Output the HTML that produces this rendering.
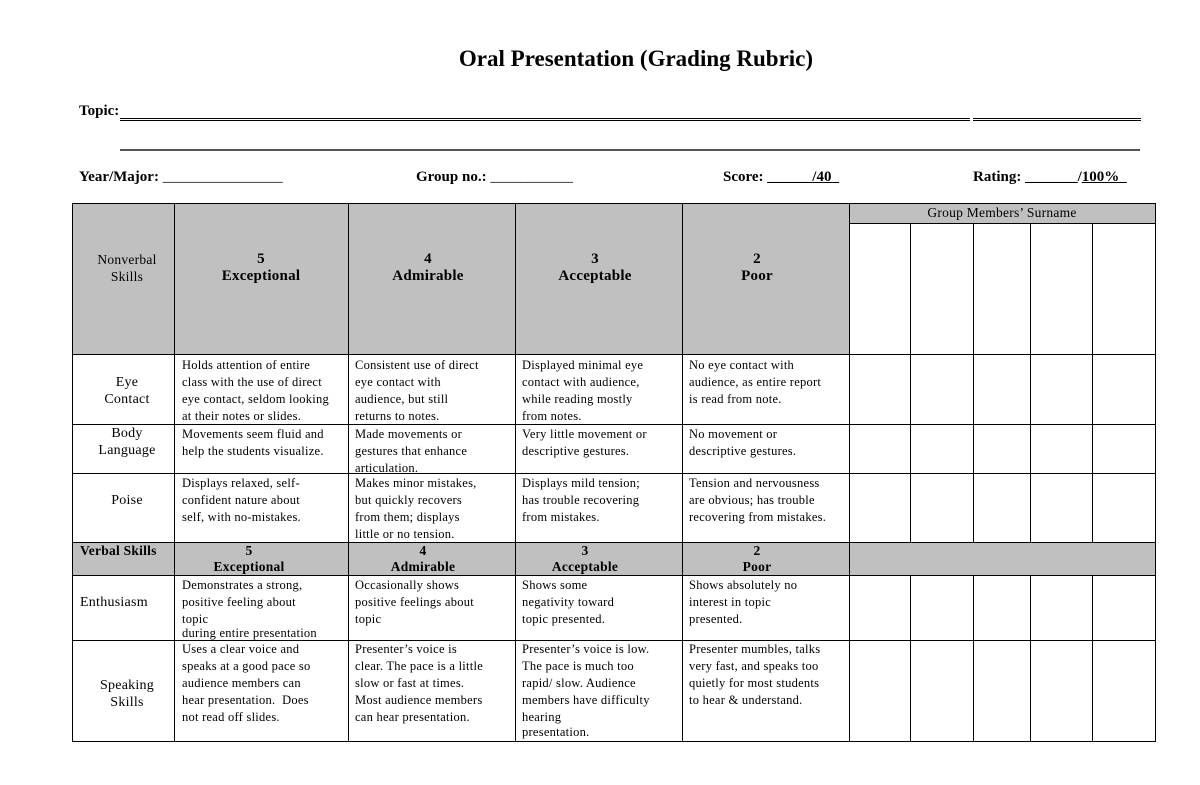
<!DOCTYPE html>
<html><head><meta charset="utf-8"><style>
body{margin:0;width:1200px;height:785px;background:#fff;position:relative;font-family:"Liberation Serif",serif;color:#000;overflow:hidden}
.a{position:absolute;white-space:nowrap}
.g{position:absolute;background:#c0c0c0}
.h{position:absolute;background:#000;height:1px}
.v{position:absolute;background:#000;width:1px}
.t{position:absolute;font-size:12.5px;line-height:17px;letter-spacing:0.25px;white-space:nowrap}
.c{text-align:center}
.b{font-weight:bold}
.lab{font-size:15px;font-weight:bold}
</style></head><body>
<div class="a b" style="left:0;width:1272px;top:46px;font-size:23px;text-align:center;">Oral Presentation (Grading Rubric)</div>
<div class="a lab" style="left:79px;top:103px">Topic:</div>
<div class="h" style="left:120px;top:118px;width:850px"></div>
<div class="h" style="left:120px;top:120px;width:850px"></div>
<div class="h" style="left:973px;top:118px;width:168px"></div>
<div class="h" style="left:973px;top:120px;width:168px"></div>
<div class="h" style="left:120px;top:149px;width:1020px;height:2px;background:#555"></div>
<div class="a lab" style="left:79px;top:169px">Year/Major: <span style="font-weight:normal">________________</span></div>
<div class="a lab" style="left:416px;top:169px">Group no.: <span style="font-weight:normal">___________</span></div>
<div class="a lab" style="left:723px;top:169px">Score: ______<u>/40</u>_</div>
<div class="a lab" style="left:973px;top:169px">Rating: _______/<u>100%</u>_</div>

<div class="g" style="left:72px;top:203px;width:777px;height:151px"></div>
<div class="g" style="left:849px;top:203px;width:306px;height:20px"></div>
<div class="g" style="left:72px;top:542px;width:1083px;height:33px"></div>

<div class="h" style="left:72px;top:203px;width:1084px"></div>
<div class="h" style="left:849px;top:223px;width:307px"></div>
<div class="h" style="left:72px;top:354px;width:1084px"></div>
<div class="h" style="left:72px;top:424px;width:1084px"></div>
<div class="h" style="left:72px;top:473px;width:1084px"></div>
<div class="h" style="left:72px;top:542px;width:1084px"></div>
<div class="h" style="left:72px;top:575px;width:1084px"></div>
<div class="h" style="left:72px;top:640px;width:1084px"></div>
<div class="h" style="left:72px;top:741px;width:1084px"></div>
<div class="v" style="left:72px;top:203px;height:539px"></div>
<div class="v" style="left:174px;top:203px;height:539px"></div>
<div class="v" style="left:348px;top:203px;height:539px"></div>
<div class="v" style="left:515px;top:203px;height:539px"></div>
<div class="v" style="left:682px;top:203px;height:539px"></div>
<div class="v" style="left:849px;top:203px;height:539px"></div>
<div class="v" style="left:1155px;top:203px;height:539px"></div>
<div class="v" style="left:910px;top:223px;height:319px"></div>
<div class="v" style="left:973px;top:223px;height:319px"></div>
<div class="v" style="left:1030px;top:223px;height:319px"></div>
<div class="v" style="left:1092px;top:223px;height:319px"></div>
<div class="v" style="left:910px;top:575px;height:166px"></div>
<div class="v" style="left:973px;top:575px;height:166px"></div>
<div class="v" style="left:1030px;top:575px;height:166px"></div>
<div class="v" style="left:1092px;top:575px;height:166px"></div>

<div class="t c" style="left:849px;width:306px;top:204px;font-size:13.5px">Group Members’ Surname</div>
<div class="t c" style="left:72px;width:110px;top:251px;font-size:13.5px">Nonverbal<br>Skills</div>
<div class="t c b" style="left:174px;width:174px;top:251px;font-size:15px">5<br>Exceptional</div>
<div class="t c b" style="left:348px;width:160px;top:251px;font-size:15px">4<br>Admirable</div>
<div class="t c b" style="left:515px;width:160px;top:251px;font-size:15px">3<br>Acceptable</div>
<div class="t c b" style="left:682px;width:150px;top:251px;font-size:15px">2<br>Poor</div>

<div class="t c" style="left:72px;width:110px;top:374px;font-size:14px">Eye<br>Contact</div>
<div class="t" style="left:182px;top:357px">Holds attention of entire<br>class with the use of direct<br>eye contact, seldom looking<br>at their notes or slides.</div>
<div class="t" style="left:355px;top:357px">Consistent use of direct<br>eye contact with<br>audience, but still<br>returns to notes.</div>
<div class="t" style="left:522px;top:357px">Displayed minimal eye<br>contact with audience,<br>while reading mostly<br>from notes.</div>
<div class="t" style="left:689px;top:357px">No eye contact with<br>audience, as entire report<br>is read from note.</div>
<div class="t c" style="left:72px;width:110px;top:425px;font-size:14px">Body<br>Language</div>
<div class="t" style="left:182px;top:426px">Movements seem fluid and<br>help the students visualize.</div>
<div class="t" style="left:355px;top:426px">Made movements or<br>gestures that enhance<br>articulation.</div>
<div class="t" style="left:522px;top:426px">Very little movement or<br>descriptive gestures.</div>
<div class="t" style="left:689px;top:426px">No movement or<br>descriptive gestures.</div>
<div class="t c" style="left:72px;width:110px;top:492px;font-size:14px">Poise</div>
<div class="t" style="left:182px;top:475px">Displays relaxed, self-<br>confident nature about<br>self, with no-mistakes.</div>
<div class="t" style="left:355px;top:475px">Makes minor mistakes,<br>but quickly recovers<br>from them; displays<br>little or no tension.</div>
<div class="t" style="left:522px;top:475px">Displays mild tension;<br>has trouble recovering<br>from mistakes.</div>
<div class="t" style="left:689px;top:475px">Tension and nervousness<br>are obvious; has trouble<br>recovering from mistakes.</div>
<div class="t b" style="left:80px;top:542px;font-size:13.5px">Verbal Skills</div>
<div class="t c b" style="left:174px;width:150px;top:543px;font-size:13.5px;line-height:16px">5<br>Exceptional</div>
<div class="t c b" style="left:348px;width:150px;top:543px;font-size:13.5px;line-height:16px">4<br>Admirable</div>
<div class="t c b" style="left:515px;width:140px;top:543px;font-size:13.5px;line-height:16px">3<br>Acceptable</div>
<div class="t c b" style="left:682px;width:150px;top:543px;font-size:13.5px;line-height:16px">2<br>Poor</div>
<div class="t" style="left:80px;top:594px;font-size:14px">Enthusiasm</div>
<div class="t" style="left:182px;top:577px">Demonstrates a strong,<br>positive feeling about<br>topic</div>
<div class="t" style="left:182px;top:626px;line-height:15px">during entire presentation</div>
<div class="t" style="left:355px;top:577px">Occasionally shows<br>positive feelings about<br>topic</div>
<div class="t" style="left:522px;top:577px">Shows some<br>negativity toward<br>topic presented.</div>
<div class="t" style="left:689px;top:577px">Shows absolutely no<br>interest in topic<br>presented.</div>
<div class="t c" style="left:72px;width:110px;top:677px;font-size:14px">Speaking<br>Skills</div>
<div class="t" style="left:182px;top:641px">Uses a clear voice and<br>speaks at a good pace so<br>audience members can<br>hear presentation.&nbsp; Does<br>not read off slides.</div>
<div class="t" style="left:355px;top:641px">Presenter’s voice is<br>clear. The pace is a little<br>slow or fast at times.<br>Most audience members<br>can hear presentation.</div>
<div class="t" style="left:522px;top:641px">Presenter’s voice is low.<br>The pace is much too<br>rapid/ slow. Audience<br>members have difficulty<br>hearing</div>
<div class="t" style="left:522px;top:725px;line-height:15px">presentation.</div>
<div class="t" style="left:689px;top:641px">Presenter mumbles, talks<br>very fast, and speaks too<br>quietly for most students<br>to hear &amp; understand.</div>
</body></html>
